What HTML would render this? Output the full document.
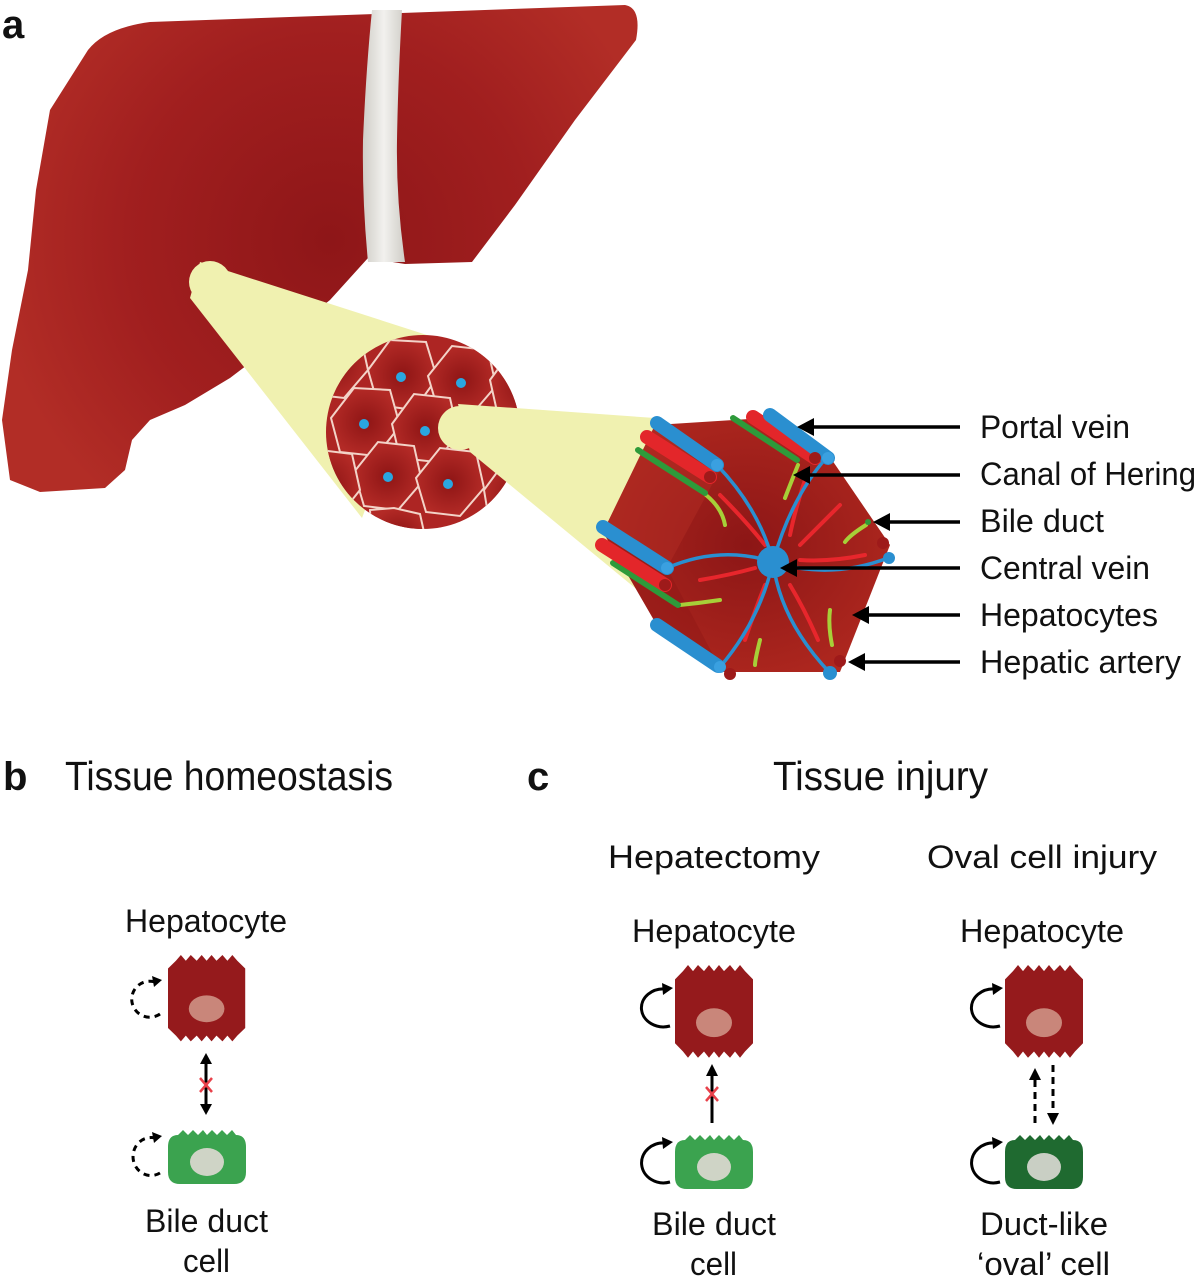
<!DOCTYPE html>
<html><head><meta charset="utf-8"><style>
html,body{margin:0;padding:0;background:#fff;}
svg{display:block;}
text{font-family:"Liberation Sans",sans-serif;fill:#111;}
</style></head><body>
<svg width="1200" height="1280" viewBox="0 0 1200 1280" xmlns="http://www.w3.org/2000/svg">
<defs>
<radialGradient id="lg" cx="330" cy="240" r="340" gradientUnits="userSpaceOnUse">
<stop offset="0" stop-color="#8e1618"/><stop offset="0.6" stop-color="#a11f1f"/><stop offset="1" stop-color="#b22d26"/>
</radialGradient>
<radialGradient id="hx" cx="0.5" cy="0.5" r="0.6">
<stop offset="0" stop-color="#8c1616"/><stop offset="1" stop-color="#b0281f"/>
</radialGradient>
<radialGradient id="cellhex" cx="0.5" cy="0.5" r="0.5">
<stop offset="0" stop-color="#8e1515"/><stop offset="1" stop-color="#b32a26"/>
</radialGradient>
<linearGradient id="band" x1="0" x2="1" y1="0" y2="0">
<stop offset="0" stop-color="#cfcdc7"/><stop offset="0.5" stop-color="#f2f1ee"/><stop offset="1" stop-color="#cfcdc7"/>
</linearGradient>
<g id="hep">
<polygon points="0,14 8,6 13,0 18,6 23,0 29,6 34,0 39,6 44,0 49,6 55,0 60,6 65,0 70,6 78,14 78,76 70,84 65,90 60,84 55,90 49,84 44,90 39,84 34,90 29,84 23,90 18,84 13,90 8,84 0,76" fill="#951a1c"/>
<ellipse cx="39" cy="56" rx="18" ry="14" fill="#c9867a"/>
</g>
<path id="bilepath" d="M0,18 Q0,6 10,6 L15,1 20,6 25,1 30,6 35,1 39,6 44,1 49,6 54,1 59,6 64,1 68,6 Q78,6 78,18 L78,43 Q78,55 66,55 L12,55 Q0,55 0,43 Z"/>
<clipPath id="circ"><circle cx="423" cy="432" r="97"/></clipPath>
</defs>

<text x="2" y="38" font-size="40" font-weight="bold">a</text>

<path d="M88,50 Q105,28 150,22 L625,5 Q642,8 636,40 L575,120 L515,205 L472,262 L405,264 L368,258 L330,300 L280,340 L230,378 L185,405 L150,420 L132,440 L125,470 L105,488 L40,492 L10,480 L2,420 L12,350 L28,270 L36,190 L50,110 Z" fill="url(#lg)"/>
<path d="M372,10 L402,10 Q398,80 397,140 Q396,200 405,262 L368,262 Q362,200 363,140 Q366,70 372,10 Z" fill="url(#band)"/>

<polygon points="200,262 430,336 362,518 190,298" fill="#f0f1b0"/>
<circle cx="210" cy="282" r="21" fill="#f0f1b0"/>
<circle cx="423" cy="432" r="97" fill="#ad2523"/>
<g clip-path="url(#circ)" stroke="#f3d3c8" stroke-width="2" fill="url(#cellhex)">
<polygon points="368,370 390,340 426,342 437,378 414,410 378,405"/>
<polygon points="428,376 452,346 488,350 496,386 472,414 438,410"/>
<polygon points="331,418 354,388 390,390 400,426 376,456 340,452"/>
<polygon points="392,424 414,394 450,398 458,434 436,462 400,458"/>
<polygon points="354,472 378,442 414,446 422,482 398,510 364,506"/>
<polygon points="416,478 440,448 476,452 484,488 460,516 426,512"/>
<polygon points="300,360 324,330 360,334 368,370 344,398 310,394"/>
<polygon points="490,380 512,350 548,354 556,390 532,420 498,416"/>
<polygon points="300,470 320,450 352,454 360,490 336,520 302,516"/>
<polygon points="370,510 394,508 420,514 428,550 400,560 372,548"/>
<polygon points="484,490 506,460 540,464 548,500 524,530 490,526"/>
</g>
<g fill="#2aa6e0">
<circle cx="401" cy="377" r="5"/><circle cx="461" cy="383" r="5"/><circle cx="364" cy="424" r="5"/>
<circle cx="425" cy="431" r="5"/><circle cx="388" cy="477" r="5"/><circle cx="448" cy="484" r="5"/>
</g>
<polygon points="458,404 655,418 725,662 470,452" fill="#f0f1b0"/>
<circle cx="460" cy="428" r="22" fill="#f0f1b0"/>

<polygon points="655,425 765,418 832,460 890,545 840,672 720,672 655,622 603,532" fill="url(#hx)"/>
<polygon points="655,425 720,470 667,568 603,532" fill="#b22c24" opacity="0.5"/>
<polygon points="667,568 720,668 655,622 603,532" fill="#8a1414" opacity="0.35"/>
<g fill="none" stroke-linecap="round">
<g stroke="#e8262c" stroke-width="4">
<path d="M720,495 Q745,520 765,545"/>
<path d="M805,480 Q795,510 790,535"/>
<path d="M700,580 Q730,575 755,568"/>
<path d="M745,640 Q755,610 765,585"/>
<path d="M818,640 Q805,610 790,585"/>
<path d="M865,555 Q830,562 800,560"/>
<path d="M840,505 Q820,525 800,545"/>
</g>
<g stroke="#a7cf38" stroke-width="4">
<path d="M706,495 Q722,508 725,525"/>
<path d="M798,465 Q790,485 785,498"/>
<path d="M680,605 Q700,603 720,600"/>
<path d="M760,640 Q755,660 755,665"/>
<path d="M832,645 Q828,625 830,610"/>
<path d="M866,525 Q850,535 845,542"/>
</g>
<g stroke="#2a8fd0" stroke-width="3.5">
<path d="M717,465 Q760,510 773,562"/>
<path d="M826,458 Q790,500 773,562"/>
<path d="M667,568 Q720,545 773,562"/>
<path d="M720,667 Q760,620 773,562"/>
<path d="M830,673 Q780,620 773,562"/>
<path d="M888,558 Q830,580 773,562"/>
</g>
</g>
<g stroke-linecap="round" fill="none">
<line x1="638" y1="450" x2="705" y2="493" stroke="#2e9a3a" stroke-width="6"/>
<line x1="647" y1="437" x2="710" y2="477" stroke="#e3262a" stroke-width="14"/>
<line x1="657" y1="423" x2="717" y2="465" stroke="#2a8fd0" stroke-width="14"/>
<line x1="733" y1="418" x2="797" y2="460" stroke="#2e9a3a" stroke-width="6"/>
<line x1="753" y1="417" x2="815" y2="458" stroke="#e3262a" stroke-width="14"/>
<line x1="770" y1="415" x2="828" y2="458" stroke="#2a8fd0" stroke-width="14"/>
<line x1="613" y1="563" x2="678" y2="605" stroke="#2e9a3a" stroke-width="6"/>
<line x1="602" y1="545" x2="665" y2="585" stroke="#e3262a" stroke-width="14"/>
<line x1="603" y1="527" x2="667" y2="568" stroke="#2a8fd0" stroke-width="14"/>
<line x1="657" y1="625" x2="718" y2="666" stroke="#2a8fd0" stroke-width="14"/>
</g>
<g>
<circle cx="717" cy="465" r="6" fill="#3aa0e0"/><circle cx="710" cy="477" r="6" fill="#9e1a1a"/>
<circle cx="828" cy="458" r="6" fill="#3aa0e0"/><circle cx="815" cy="458" r="6" fill="#9e1a1a"/>
<circle cx="667" cy="568" r="6" fill="#3aa0e0"/><circle cx="665" cy="585" r="6" fill="#9e1a1a"/>
<circle cx="720" cy="667" r="6" fill="#3aa0e0"/><circle cx="730" cy="674" r="6" fill="#9e1a1a"/>
<circle cx="830" cy="673" r="7" fill="#2a8fd0"/><circle cx="840" cy="661" r="6" fill="#9e1a1a"/>
<circle cx="883" cy="543" r="6" fill="#9e1a1a"/><circle cx="889" cy="558" r="6" fill="#2a8fd0"/>
<circle cx="868" cy="522" r="3" fill="#2e9a3a"/>
<circle cx="773" cy="562" r="16" fill="#2a8fd0"/>
</g>

<g stroke="#000" stroke-width="3.5">
<line x1="960" y1="427" x2="810" y2="427"/>
<line x1="960" y1="475" x2="806" y2="475"/>
<line x1="960" y1="522" x2="886" y2="522"/>
<line x1="960" y1="568" x2="793" y2="568"/>
<line x1="960" y1="615" x2="865" y2="615"/>
<line x1="960" y1="662" x2="861" y2="662"/>
</g>
<g fill="#000">
<polygon points="797,427 814,418 814,436"/>
<polygon points="793,475 810,466 810,484"/>
<polygon points="873,522 890,513 890,531"/>
<polygon points="780,568 797,559 797,577"/>
<polygon points="852,615 869,606 869,624"/>
<polygon points="848,662 865,653 865,671"/>
</g>
<g font-size="32" lengthAdjust="spacingAndGlyphs">
<text x="980" y="438" textLength="150" lengthAdjust="spacingAndGlyphs">Portal vein</text>
<text x="980" y="485" textLength="216" lengthAdjust="spacingAndGlyphs">Canal of Hering</text>
<text x="980" y="532" textLength="124" lengthAdjust="spacingAndGlyphs">Bile duct</text>
<text x="980" y="579" textLength="170" lengthAdjust="spacingAndGlyphs">Central vein</text>
<text x="980" y="626" textLength="178" lengthAdjust="spacingAndGlyphs">Hepatocytes</text>
<text x="980" y="673" textLength="201" lengthAdjust="spacingAndGlyphs">Hepatic artery</text>
</g>

<text x="3" y="790" font-size="40" font-weight="bold">b</text>
<text x="65" y="790" font-size="41" textLength="328" lengthAdjust="spacingAndGlyphs">Tissue homeostasis</text>
<text x="527" y="790" font-size="40" font-weight="bold">c</text>
<text x="773" y="790" font-size="41" textLength="215" lengthAdjust="spacingAndGlyphs">Tissue injury</text>
<g font-size="32">
<text x="608" y="868" textLength="212" lengthAdjust="spacingAndGlyphs">Hepatectomy</text>
<text x="927" y="868" textLength="230" lengthAdjust="spacingAndGlyphs">Oval cell injury</text>
<text x="125" y="932" textLength="162" lengthAdjust="spacingAndGlyphs">Hepatocyte</text>
<text x="632" y="942" textLength="164" lengthAdjust="spacingAndGlyphs">Hepatocyte</text>
<text x="960" y="942" textLength="164" lengthAdjust="spacingAndGlyphs">Hepatocyte</text>
<text x="145" y="1232" textLength="123" lengthAdjust="spacingAndGlyphs">Bile duct</text>
<text x="183" y="1272" textLength="47" lengthAdjust="spacingAndGlyphs">cell</text>
<text x="652" y="1235" textLength="124" lengthAdjust="spacingAndGlyphs">Bile duct</text>
<text x="690" y="1275" textLength="47" lengthAdjust="spacingAndGlyphs">cell</text>
<text x="980" y="1235" textLength="128" lengthAdjust="spacingAndGlyphs">Duct-like</text>
<text x="977" y="1275" textLength="133" lengthAdjust="spacingAndGlyphs">‘oval’ cell</text>
</g>

<use href="#hep" transform="translate(168,955) scale(0.99,0.96)"/>
<use href="#bilepath" transform="translate(168,1129)" fill="#3ba34f"/>
<ellipse cx="207" cy="1162" rx="17" ry="14" fill="#cfd4c6"/>
<use href="#hep" transform="translate(675,965) scale(1,1.03)"/>
<use href="#bilepath" transform="translate(675,1134)" fill="#3ba34f"/>
<ellipse cx="714" cy="1167" rx="17" ry="14" fill="#cfd4c6"/>
<use href="#hep" transform="translate(1005,965) scale(1,1.03)"/>
<use href="#bilepath" transform="translate(1005,1134)" fill="#1f6a30"/>
<ellipse cx="1044" cy="1167" rx="17" ry="14" fill="#c9cfc4"/>

<g fill="none" stroke="#000" stroke-width="3">
<path d="M160,1014 A18 18 0 1 1 155,982" stroke-dasharray="6,5"/>
<path d="M160,1173 A18 19 0 1 1 155,1138" stroke-dasharray="6,5"/>
<path d="M670,1026 A22 19 0 1 1 666,989"/>
<path d="M670,1182 A22 20 0 1 1 666,1143"/>
<path d="M1000,1026 A22 19 0 1 1 996,989"/>
<path d="M1000,1182 A22 20 0 1 1 996,1143"/>
</g>
<g fill="#000">
<polygon points="152,976 162,980 154,987"/>
<polygon points="152,1132 162,1136 154,1143"/>
<polygon points="662,983 673,988 663,995"/>
<polygon points="662,1137 673,1142 663,1149"/>
<polygon points="992,983 1003,988 993,995"/>
<polygon points="992,1137 1003,1142 993,1149"/>
</g>

<g stroke="#000" stroke-width="3">
<line x1="206" y1="1062" x2="206" y2="1106"/>
<line x1="712" y1="1123" x2="712" y2="1074"/>
<line x1="1035" y1="1123" x2="1035" y2="1078" stroke-dasharray="7,5"/>
<line x1="1053" y1="1065" x2="1053" y2="1115" stroke-dasharray="7,5"/>
</g>
<g fill="#000">
<polygon points="206,1053 200,1064 212,1064"/>
<polygon points="206,1115 200,1104 212,1104"/>
<polygon points="712,1064 706,1076 718,1076"/>
<polygon points="1035,1068 1029,1080 1041,1080"/>
<polygon points="1053,1125 1047,1113 1059,1113"/>
</g>
<g stroke="#e8414a" stroke-width="2.5">
<line x1="200" y1="1078" x2="212" y2="1092"/><line x1="212" y1="1078" x2="200" y2="1092"/>
<line x1="706" y1="1087" x2="718" y2="1101"/><line x1="718" y1="1087" x2="706" y2="1101"/>
</g>
</svg>
</body></html>
